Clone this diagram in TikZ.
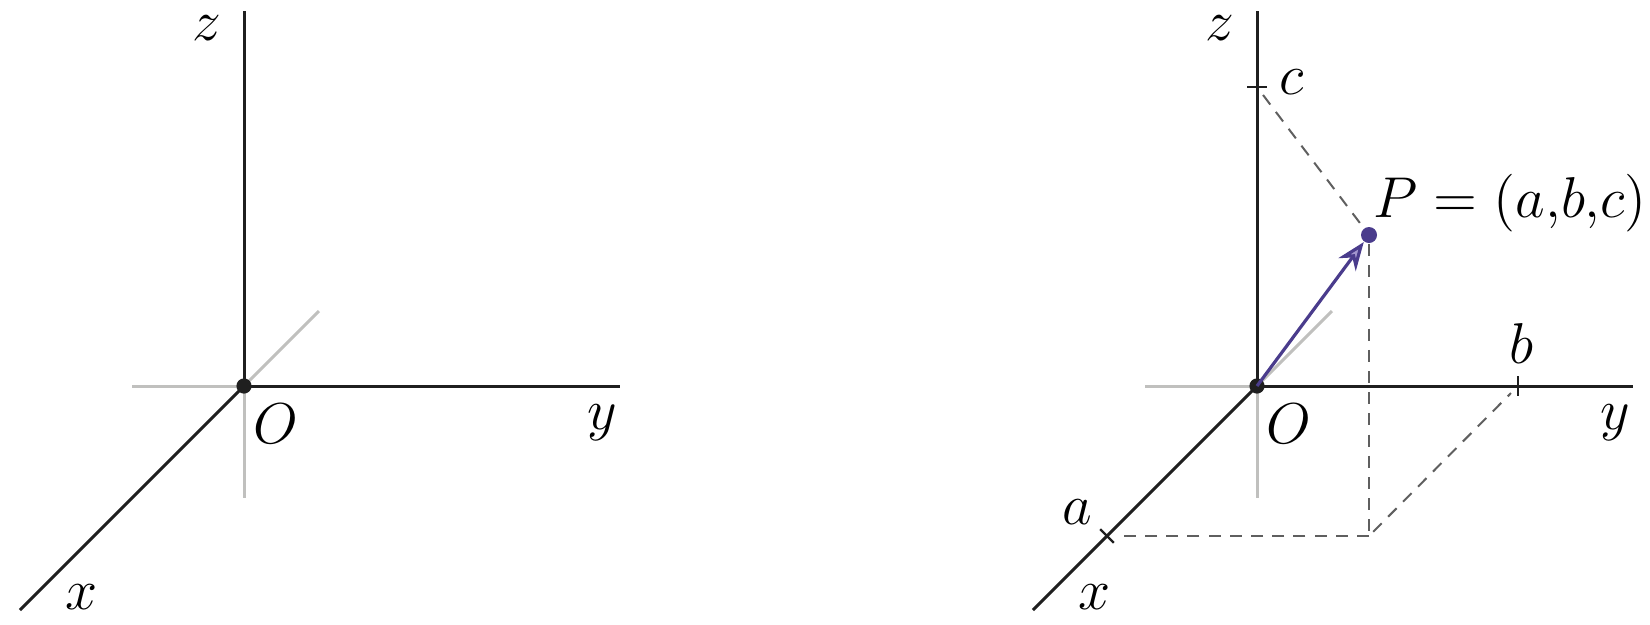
\documentclass[tikz,border=0pt]{standalone}
\usepackage{amsmath}
\usetikzlibrary{arrows.meta}

\definecolor{vecpurple}{RGB}{74,60,140}
\definecolor{headlilac}{RGB}{162,150,206}
\definecolor{negaxis}{RGB}{192,192,190}
\definecolor{dashgray}{RGB}{95,95,95}

\begin{document}
\begin{tikzpicture}[x=0.25pt,y=-0.25pt,
  font=\fontsize{14.5}{17}\selectfont,
  axis/.style={line width=0.75pt,draw=black!88},
  negative/.style={line width=0.75pt,draw=negaxis},
  guide/.style={line width=0.5pt,draw=dashgray,dash pattern=on 3pt off 2.3pt},
  tick/.style={line width=0.6pt,draw=black!88},
  origin/.style={circle,fill=black!88,inner sep=0pt,minimum size=3.8pt},
  point/.style={circle,fill=vecpurple,inner sep=0pt,minimum size=4pt},
  lbl/.style={inner sep=0pt}]
\useasboundingbox (0,0) rectangle (1650,624);

% the same axes twice
\foreach \n/\s in {L/0,R/1013}{
  \begin{scope}[shift={(\s,0)}]
    \coordinate (O\n) at (244,386);
    \coordinate (zend\n) at (244,11);
    \coordinate (yend\n) at (620,386);
    \coordinate (xend\n) at (20,610);
    \coordinate (zneg\n) at (244,498);
    \coordinate (yneg\n) at (132,386);
    \coordinate (xneg\n) at (319,311);
    \draw[negative] (O\n) -- (zneg\n);
    \draw[negative] (O\n) -- (yneg\n);
    \draw[negative] (O\n) -- (xneg\n);
    \draw[axis] (O\n) -- (zend\n);
    \draw[axis] (O\n) -- (yend\n);
    \draw[axis] (O\n) -- (xend\n);
    \node[origin] (dot\n) at (O\n) {};
    \node[lbl] (zlab\n) at (207,28) {$z$};
    \node[lbl] (ylab\n) at (602,423) {$y$};
    \node[lbl] (xlab\n) at (82,597) {$x$};
    \node[lbl] (olab\n) at (276,424) {$O$};
  \end{scope}
}

% point P and its projections
\coordinate (ctick) at (1257,87);
\coordinate (btick) at (1518,386);
\coordinate (atick) at (1107,536);
\coordinate (Pxy) at (1369,536);
\node[point] (P) at (1369,235) {};

\draw[tick] ([xshift=-2.4pt]ctick) -- ([xshift=2.4pt]ctick);
\draw[tick] ([yshift=-2.4pt]btick) -- ([yshift=2.4pt]btick);
\draw[tick] ([shift={(-1.7pt,1.7pt)}]atick) -- ([shift={(1.7pt,-1.7pt)}]atick);

\draw[guide,shorten <=2.5pt] (ctick) -- (P);
\draw[guide] (P) -- (Pxy);
\draw[guide,shorten >=3pt] (Pxy) -- (atick);
\draw[guide,shorten <=1.5pt,shorten >=2.5pt] (Pxy) -- (btick);

\draw[vecpurple,line width=0.8pt,
  -{Stealth[length=7pt,width=5.4pt,inset=2.2pt,fill=headlilac]}] (OR) -- (P);

\node[lbl] (clab) at (1292,82) {$c$};
\node[lbl] (blab) at (1521,343) {$b$};
\node[lbl] (alab) at (1077,512) {$a$};
\node[lbl,anchor=base west] (plab) at (1373,217) {$P=(a{,}b{,}c)$};
\end{tikzpicture}
\end{document}
